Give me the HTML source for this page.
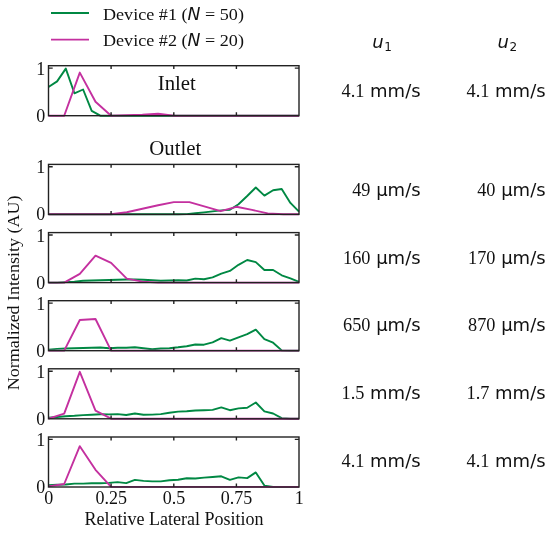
<!DOCTYPE html><html><head><meta charset="utf-8"><title>Normalized intensity profiles</title><style>html,body{margin:0;padding:0;background:#fff;width:550px;height:533px;overflow:hidden}svg{display:block;filter:blur(0.3px)}</style></head><body>
<svg width="550" height="533" viewBox="0 0 550 533">
<line x1="51" y1="13" x2="89" y2="13" stroke="#008843" stroke-width="1.8"/>
<line x1="51" y1="39.7" x2="89" y2="39.7" stroke="#c4309f" stroke-width="1.8"/>
<g transform="translate(103,0) scale(1.03,1) translate(-103,0)">
<text font-family="'Liberation Serif', serif" x="103" y="19.6" font-size="17.6" fill="#111">Device #1 (</text>
<text font-family="'DejaVu Sans', sans-serif" x="185.10" y="19.6" font-size="16.8" font-style="italic" fill="#111">N</text>
<text font-family="'Liberation Serif', serif" x="197.67" y="19.6" font-size="17.6" fill="#111" xml:space="preserve"> = 50)</text>
<text font-family="'Liberation Serif', serif" x="103" y="45.8" font-size="17.6" fill="#111">Device #2 (</text>
<text font-family="'DejaVu Sans', sans-serif" x="185.10" y="45.8" font-size="16.8" font-style="italic" fill="#111">N</text>
<text font-family="'Liberation Serif', serif" x="197.67" y="45.8" font-size="17.6" fill="#111" xml:space="preserve"> = 20)</text>
</g>
<text font-family="'Liberation Serif', serif" x="176.8" y="90.0" font-size="20.8" text-anchor="middle" fill="#111">Inlet</text>
<text font-family="'Liberation Serif', serif" x="175.3" y="155.0" font-size="20.8" text-anchor="middle" fill="#111">Outlet</text>
<text font-family="'DejaVu Sans', sans-serif" x="372.2" y="48.4" font-size="18" font-style="italic" fill="#111">u</text>
<text font-family="'DejaVu Sans', sans-serif" x="384.21" y="51.2" font-size="12" fill="#111">1</text>
<text font-family="'DejaVu Sans', sans-serif" x="497.5" y="48.4" font-size="18" font-style="italic" fill="#111">u</text>
<text font-family="'DejaVu Sans', sans-serif" x="509.51" y="51.2" font-size="12" fill="#111">2</text>
<text font-family="'DejaVu Sans', sans-serif" x="420.6" y="96.6" font-size="18" text-anchor="end" fill="#111" xml:space="preserve"> mm/s</text>
<text font-family="'Liberation Serif', serif" x="364.37" y="96.6" font-size="18.3" text-anchor="end" fill="#111">4.1</text>
<text font-family="'DejaVu Sans', sans-serif" x="545.6" y="96.6" font-size="18" text-anchor="end" fill="#111" xml:space="preserve"> mm/s</text>
<text font-family="'Liberation Serif', serif" x="489.37" y="96.6" font-size="18.3" text-anchor="end" fill="#111">4.1</text>
<text font-family="'DejaVu Sans', sans-serif" x="420.6" y="196.1" font-size="18" text-anchor="end" fill="#111" xml:space="preserve"> µm/s</text>
<text font-family="'Liberation Serif', serif" x="370.45" y="196.1" font-size="18.3" text-anchor="end" fill="#111">49</text>
<text font-family="'DejaVu Sans', sans-serif" x="545.6" y="196.1" font-size="18" text-anchor="end" fill="#111" xml:space="preserve"> µm/s</text>
<text font-family="'Liberation Serif', serif" x="495.45" y="196.1" font-size="18.3" text-anchor="end" fill="#111">40</text>
<text font-family="'DejaVu Sans', sans-serif" x="420.6" y="263.9" font-size="18" text-anchor="end" fill="#111" xml:space="preserve"> µm/s</text>
<text font-family="'Liberation Serif', serif" x="370.45" y="263.9" font-size="18.3" text-anchor="end" fill="#111">160</text>
<text font-family="'DejaVu Sans', sans-serif" x="545.6" y="263.9" font-size="18" text-anchor="end" fill="#111" xml:space="preserve"> µm/s</text>
<text font-family="'Liberation Serif', serif" x="495.45" y="263.9" font-size="18.3" text-anchor="end" fill="#111">170</text>
<text font-family="'DejaVu Sans', sans-serif" x="420.6" y="331.3" font-size="18" text-anchor="end" fill="#111" xml:space="preserve"> µm/s</text>
<text font-family="'Liberation Serif', serif" x="370.45" y="331.3" font-size="18.3" text-anchor="end" fill="#111">650</text>
<text font-family="'DejaVu Sans', sans-serif" x="545.6" y="331.3" font-size="18" text-anchor="end" fill="#111" xml:space="preserve"> µm/s</text>
<text font-family="'Liberation Serif', serif" x="495.45" y="331.3" font-size="18.3" text-anchor="end" fill="#111">870</text>
<text font-family="'DejaVu Sans', sans-serif" x="420.6" y="398.9" font-size="18" text-anchor="end" fill="#111" xml:space="preserve"> mm/s</text>
<text font-family="'Liberation Serif', serif" x="364.37" y="398.9" font-size="18.3" text-anchor="end" fill="#111">1.5</text>
<text font-family="'DejaVu Sans', sans-serif" x="545.6" y="398.9" font-size="18" text-anchor="end" fill="#111" xml:space="preserve"> mm/s</text>
<text font-family="'Liberation Serif', serif" x="489.37" y="398.9" font-size="18.3" text-anchor="end" fill="#111">1.7</text>
<text font-family="'DejaVu Sans', sans-serif" x="420.6" y="466.9" font-size="18" text-anchor="end" fill="#111" xml:space="preserve"> mm/s</text>
<text font-family="'Liberation Serif', serif" x="364.37" y="466.9" font-size="18.3" text-anchor="end" fill="#111">4.1</text>
<text font-family="'DejaVu Sans', sans-serif" x="545.6" y="466.9" font-size="18" text-anchor="end" fill="#111" xml:space="preserve"> mm/s</text>
<text font-family="'Liberation Serif', serif" x="489.37" y="466.9" font-size="18.3" text-anchor="end" fill="#111">4.1</text>
<polyline points="48.5,87.0 57.1,81.4 65.8,68.6 74.4,93.3 83.1,89.5 91.7,110.8 100.3,115.7 109.0,115.7 117.6,115.7 126.2,115.7 134.9,115.7 143.5,115.7 152.2,115.7 160.8,115.7 169.4,115.7 178.1,115.7 186.7,115.7 195.3,115.7 204.0,115.7 212.6,115.7 221.3,115.7 229.9,115.7 238.5,115.7 247.2,115.7 255.8,115.7 264.4,115.7 273.1,115.7 281.7,115.7 290.4,115.7 299.0,115.7" fill="none" stroke="#008843" stroke-width="1.9" stroke-linejoin="round"/>
<polyline points="48.5,115.7 64.2,115.7 79.8,72.6 95.5,101.7 111.1,115.7 126.8,115.2 142.4,114.7 158.1,113.8 173.8,115.7 189.4,115.7 205.1,115.7 220.7,115.7 236.4,115.7 252.0,115.7 267.7,115.7 283.3,115.7 299.0,115.7" fill="none" stroke="#c4309f" stroke-width="1.9" stroke-linejoin="round"/>
<rect x="48.5" y="65.7" width="250.5" height="50.0" fill="none" stroke="#222" stroke-width="1.4"/>
<path d="M111.1,65.7v3.4M111.1,115.7v-3.4M173.8,65.7v3.4M173.8,115.7v-3.4M236.4,65.7v3.4M236.4,115.7v-3.4M48.5,68.1h4.2M299.0,68.1h-4.2" stroke="#222" stroke-width="1.4" fill="none"/>
<text font-family="'Liberation Serif', serif" x="45.3" y="74.6" font-size="18" text-anchor="end" fill="#111">1</text>
<text font-family="'Liberation Serif', serif" x="45.2" y="121.7" font-size="18" text-anchor="end" fill="#111">0</text>
<polyline points="48.5,214.3 57.1,214.3 65.8,214.3 74.4,214.3 83.1,214.3 91.7,214.3 100.3,214.3 109.0,214.3 117.6,214.3 126.2,214.3 134.9,214.3 143.5,214.3 152.2,214.3 160.8,214.3 169.4,214.3 178.1,214.3 186.7,214.1 195.3,213.3 204.0,212.4 212.6,211.4 221.3,210.4 229.9,209.7 238.5,204.2 247.2,196.0 255.8,187.5 264.4,195.6 273.1,190.2 281.7,189.0 290.4,202.9 299.0,211.7" fill="none" stroke="#008843" stroke-width="1.9" stroke-linejoin="round"/>
<polyline points="48.5,214.3 64.2,214.3 79.8,214.3 95.5,214.3 111.1,214.3 126.8,212.2 142.4,208.8 158.1,205.3 173.8,202.1 189.4,202.1 205.1,206.7 220.7,211.2 236.4,206.8 252.0,209.9 267.7,213.4 283.3,214.3 299.0,214.3" fill="none" stroke="#c4309f" stroke-width="1.9" stroke-linejoin="round"/>
<rect x="48.5" y="164.4" width="250.5" height="50.0" fill="none" stroke="#222" stroke-width="1.4"/>
<path d="M111.1,164.4v3.4M111.1,214.4v-3.4M173.8,164.4v3.4M173.8,214.4v-3.4M236.4,164.4v3.4M236.4,214.4v-3.4M48.5,166.8h4.2M299.0,166.8h-4.2" stroke="#222" stroke-width="1.4" fill="none"/>
<text font-family="'Liberation Serif', serif" x="45.3" y="173.3" font-size="18" text-anchor="end" fill="#111">1</text>
<text font-family="'Liberation Serif', serif" x="45.2" y="220.4" font-size="18" text-anchor="end" fill="#111">0</text>
<polyline points="48.5,282.6 57.1,282.6 65.8,282.1 74.4,281.6 83.1,280.7 91.7,280.5 100.3,280.2 109.0,280.0 117.6,279.7 126.2,279.5 134.9,279.5 143.5,279.7 152.2,280.2 160.8,280.7 169.4,280.5 178.1,280.2 186.7,280.5 195.3,278.6 204.0,279.3 212.6,277.4 221.3,273.6 229.9,270.9 238.5,264.8 247.2,260.0 255.8,262.1 264.4,270.0 273.1,270.0 281.7,275.3 290.4,278.4 299.0,281.8" fill="none" stroke="#008843" stroke-width="1.9" stroke-linejoin="round"/>
<polyline points="48.5,282.6 64.2,282.6 79.8,273.8 95.5,255.6 111.1,262.9 126.8,278.6 142.4,281.6 158.1,282.6 173.8,282.6 189.4,282.6 205.1,282.6 220.7,282.6 236.4,282.6 252.0,282.6 267.7,282.6 283.3,282.6 299.0,282.6" fill="none" stroke="#c4309f" stroke-width="1.9" stroke-linejoin="round"/>
<rect x="48.5" y="232.6" width="250.5" height="50.0" fill="none" stroke="#222" stroke-width="1.4"/>
<path d="M111.1,232.6v3.4M111.1,282.6v-3.4M173.8,232.6v3.4M173.8,282.6v-3.4M236.4,232.6v3.4M236.4,282.6v-3.4M48.5,235.0h4.2M299.0,235.0h-4.2" stroke="#222" stroke-width="1.4" fill="none"/>
<text font-family="'Liberation Serif', serif" x="45.3" y="241.5" font-size="18" text-anchor="end" fill="#111">1</text>
<text font-family="'Liberation Serif', serif" x="45.2" y="288.6" font-size="18" text-anchor="end" fill="#111">0</text>
<polyline points="48.5,349.6 57.1,348.9 65.8,348.5 74.4,348.2 83.1,348.0 91.7,347.7 100.3,347.5 109.0,348.2 117.6,347.8 126.2,347.7 134.9,347.3 143.5,348.2 152.2,349.2 160.8,348.5 169.4,348.2 178.1,347.3 186.7,346.2 195.3,344.5 204.0,344.7 212.6,342.4 221.3,338.1 229.9,340.6 238.5,337.3 247.2,334.2 255.8,329.6 264.4,339.2 273.1,342.7 281.7,350.4 290.4,350.6 299.0,350.6" fill="none" stroke="#008843" stroke-width="1.9" stroke-linejoin="round"/>
<polyline points="48.5,350.6 64.2,350.6 79.8,320.0 95.5,319.0 111.1,350.6 126.8,350.6 142.4,350.6 158.1,350.6 173.8,350.6 189.4,350.6 205.1,350.6 220.7,350.6 236.4,350.6 252.0,350.6 267.7,350.6 283.3,350.6 299.0,350.6" fill="none" stroke="#c4309f" stroke-width="1.9" stroke-linejoin="round"/>
<rect x="48.5" y="300.7" width="250.5" height="50.0" fill="none" stroke="#222" stroke-width="1.4"/>
<path d="M111.1,300.7v3.4M111.1,350.7v-3.4M173.8,300.7v3.4M173.8,350.7v-3.4M236.4,300.7v3.4M236.4,350.7v-3.4M48.5,303.1h4.2M299.0,303.1h-4.2" stroke="#222" stroke-width="1.4" fill="none"/>
<text font-family="'Liberation Serif', serif" x="45.3" y="309.6" font-size="18" text-anchor="end" fill="#111">1</text>
<text font-family="'Liberation Serif', serif" x="45.2" y="356.7" font-size="18" text-anchor="end" fill="#111">0</text>
<polyline points="48.5,417.7 57.1,417.0 65.8,416.3 74.4,415.8 83.1,415.1 91.7,414.7 100.3,414.3 109.0,414.4 117.6,414.1 126.2,415.0 134.9,413.5 143.5,414.7 152.2,414.6 160.8,414.1 169.4,412.8 178.1,411.6 186.7,411.2 195.3,410.5 204.0,410.2 212.6,409.9 221.3,407.4 229.9,410.2 238.5,408.4 247.2,407.7 255.8,402.5 264.4,411.4 273.1,413.5 281.7,418.1 290.4,418.7 299.0,418.7" fill="none" stroke="#008843" stroke-width="1.9" stroke-linejoin="round"/>
<polyline points="48.5,418.7 64.2,413.6 79.8,371.8 95.5,410.7 111.1,418.7 126.8,418.7 142.4,418.7 158.1,418.7 173.8,418.7 189.4,418.7 205.1,418.7 220.7,418.7 236.4,418.7 252.0,418.7 267.7,418.7 283.3,418.7 299.0,418.7" fill="none" stroke="#c4309f" stroke-width="1.9" stroke-linejoin="round"/>
<rect x="48.5" y="368.8" width="250.5" height="50.0" fill="none" stroke="#222" stroke-width="1.4"/>
<path d="M111.1,368.8v3.4M111.1,418.8v-3.4M173.8,368.8v3.4M173.8,418.8v-3.4M236.4,368.8v3.4M236.4,418.8v-3.4M48.5,371.2h4.2M299.0,371.2h-4.2" stroke="#222" stroke-width="1.4" fill="none"/>
<text font-family="'Liberation Serif', serif" x="45.3" y="377.7" font-size="18" text-anchor="end" fill="#111">1</text>
<text font-family="'Liberation Serif', serif" x="45.2" y="424.8" font-size="18" text-anchor="end" fill="#111">0</text>
<polyline points="48.5,485.2 57.1,484.8 65.8,484.5 74.4,483.6 83.1,483.6 91.7,483.3 100.3,483.3 109.0,482.9 117.6,482.1 126.2,483.1 134.9,479.9 143.5,480.9 152.2,481.4 160.8,481.4 169.4,480.3 178.1,479.8 186.7,478.3 195.3,478.5 204.0,477.6 212.6,477.0 221.3,476.3 229.9,479.8 238.5,477.4 247.2,478.1 255.8,472.4 264.4,485.6 273.1,486.9 281.7,486.9 290.4,486.9 299.0,486.9" fill="none" stroke="#008843" stroke-width="1.9" stroke-linejoin="round"/>
<polyline points="48.5,486.4 64.2,484.0 79.8,446.2 95.5,469.8 111.1,486.9 126.8,486.9 142.4,486.9 158.1,486.9 173.8,486.9 189.4,486.9 205.1,486.9 220.7,486.9 236.4,486.9 252.0,486.9 267.7,486.9 283.3,486.9 299.0,486.9" fill="none" stroke="#c4309f" stroke-width="1.9" stroke-linejoin="round"/>
<rect x="48.5" y="437.0" width="250.5" height="50.0" fill="none" stroke="#222" stroke-width="1.4"/>
<path d="M111.1,437.0v3.4M111.1,487.0v-3.4M173.8,437.0v3.4M173.8,487.0v-3.4M236.4,437.0v3.4M236.4,487.0v-3.4M48.5,439.4h4.2M299.0,439.4h-4.2" stroke="#222" stroke-width="1.4" fill="none"/>
<text font-family="'Liberation Serif', serif" x="45.3" y="445.9" font-size="18" text-anchor="end" fill="#111">1</text>
<text font-family="'Liberation Serif', serif" x="45.2" y="493.0" font-size="18" text-anchor="end" fill="#111">0</text>
<text font-family="'Liberation Serif', serif" x="48.7" y="503.6" font-size="18" text-anchor="middle" fill="#111">0</text>
<text font-family="'Liberation Serif', serif" x="111.3" y="503.6" font-size="18" text-anchor="middle" fill="#111">0.25</text>
<text font-family="'Liberation Serif', serif" x="173.9" y="503.6" font-size="18" text-anchor="middle" fill="#111">0.5</text>
<text font-family="'Liberation Serif', serif" x="236.6" y="503.6" font-size="18" text-anchor="middle" fill="#111">0.75</text>
<text font-family="'Liberation Serif', serif" x="299.2" y="503.6" font-size="18" text-anchor="middle" fill="#111">1</text>
<text font-family="'Liberation Serif', serif" x="174" y="524.9" font-size="18" text-anchor="middle" fill="#111">Relative Lateral Position</text>
<text font-family="'Liberation Serif', serif" transform="translate(18.6,292.9) rotate(-90) scale(1,0.9)" x="0" y="0" font-size="18" text-anchor="middle" fill="#111">Normalized Intensity (AU)</text>
</svg></body></html>
